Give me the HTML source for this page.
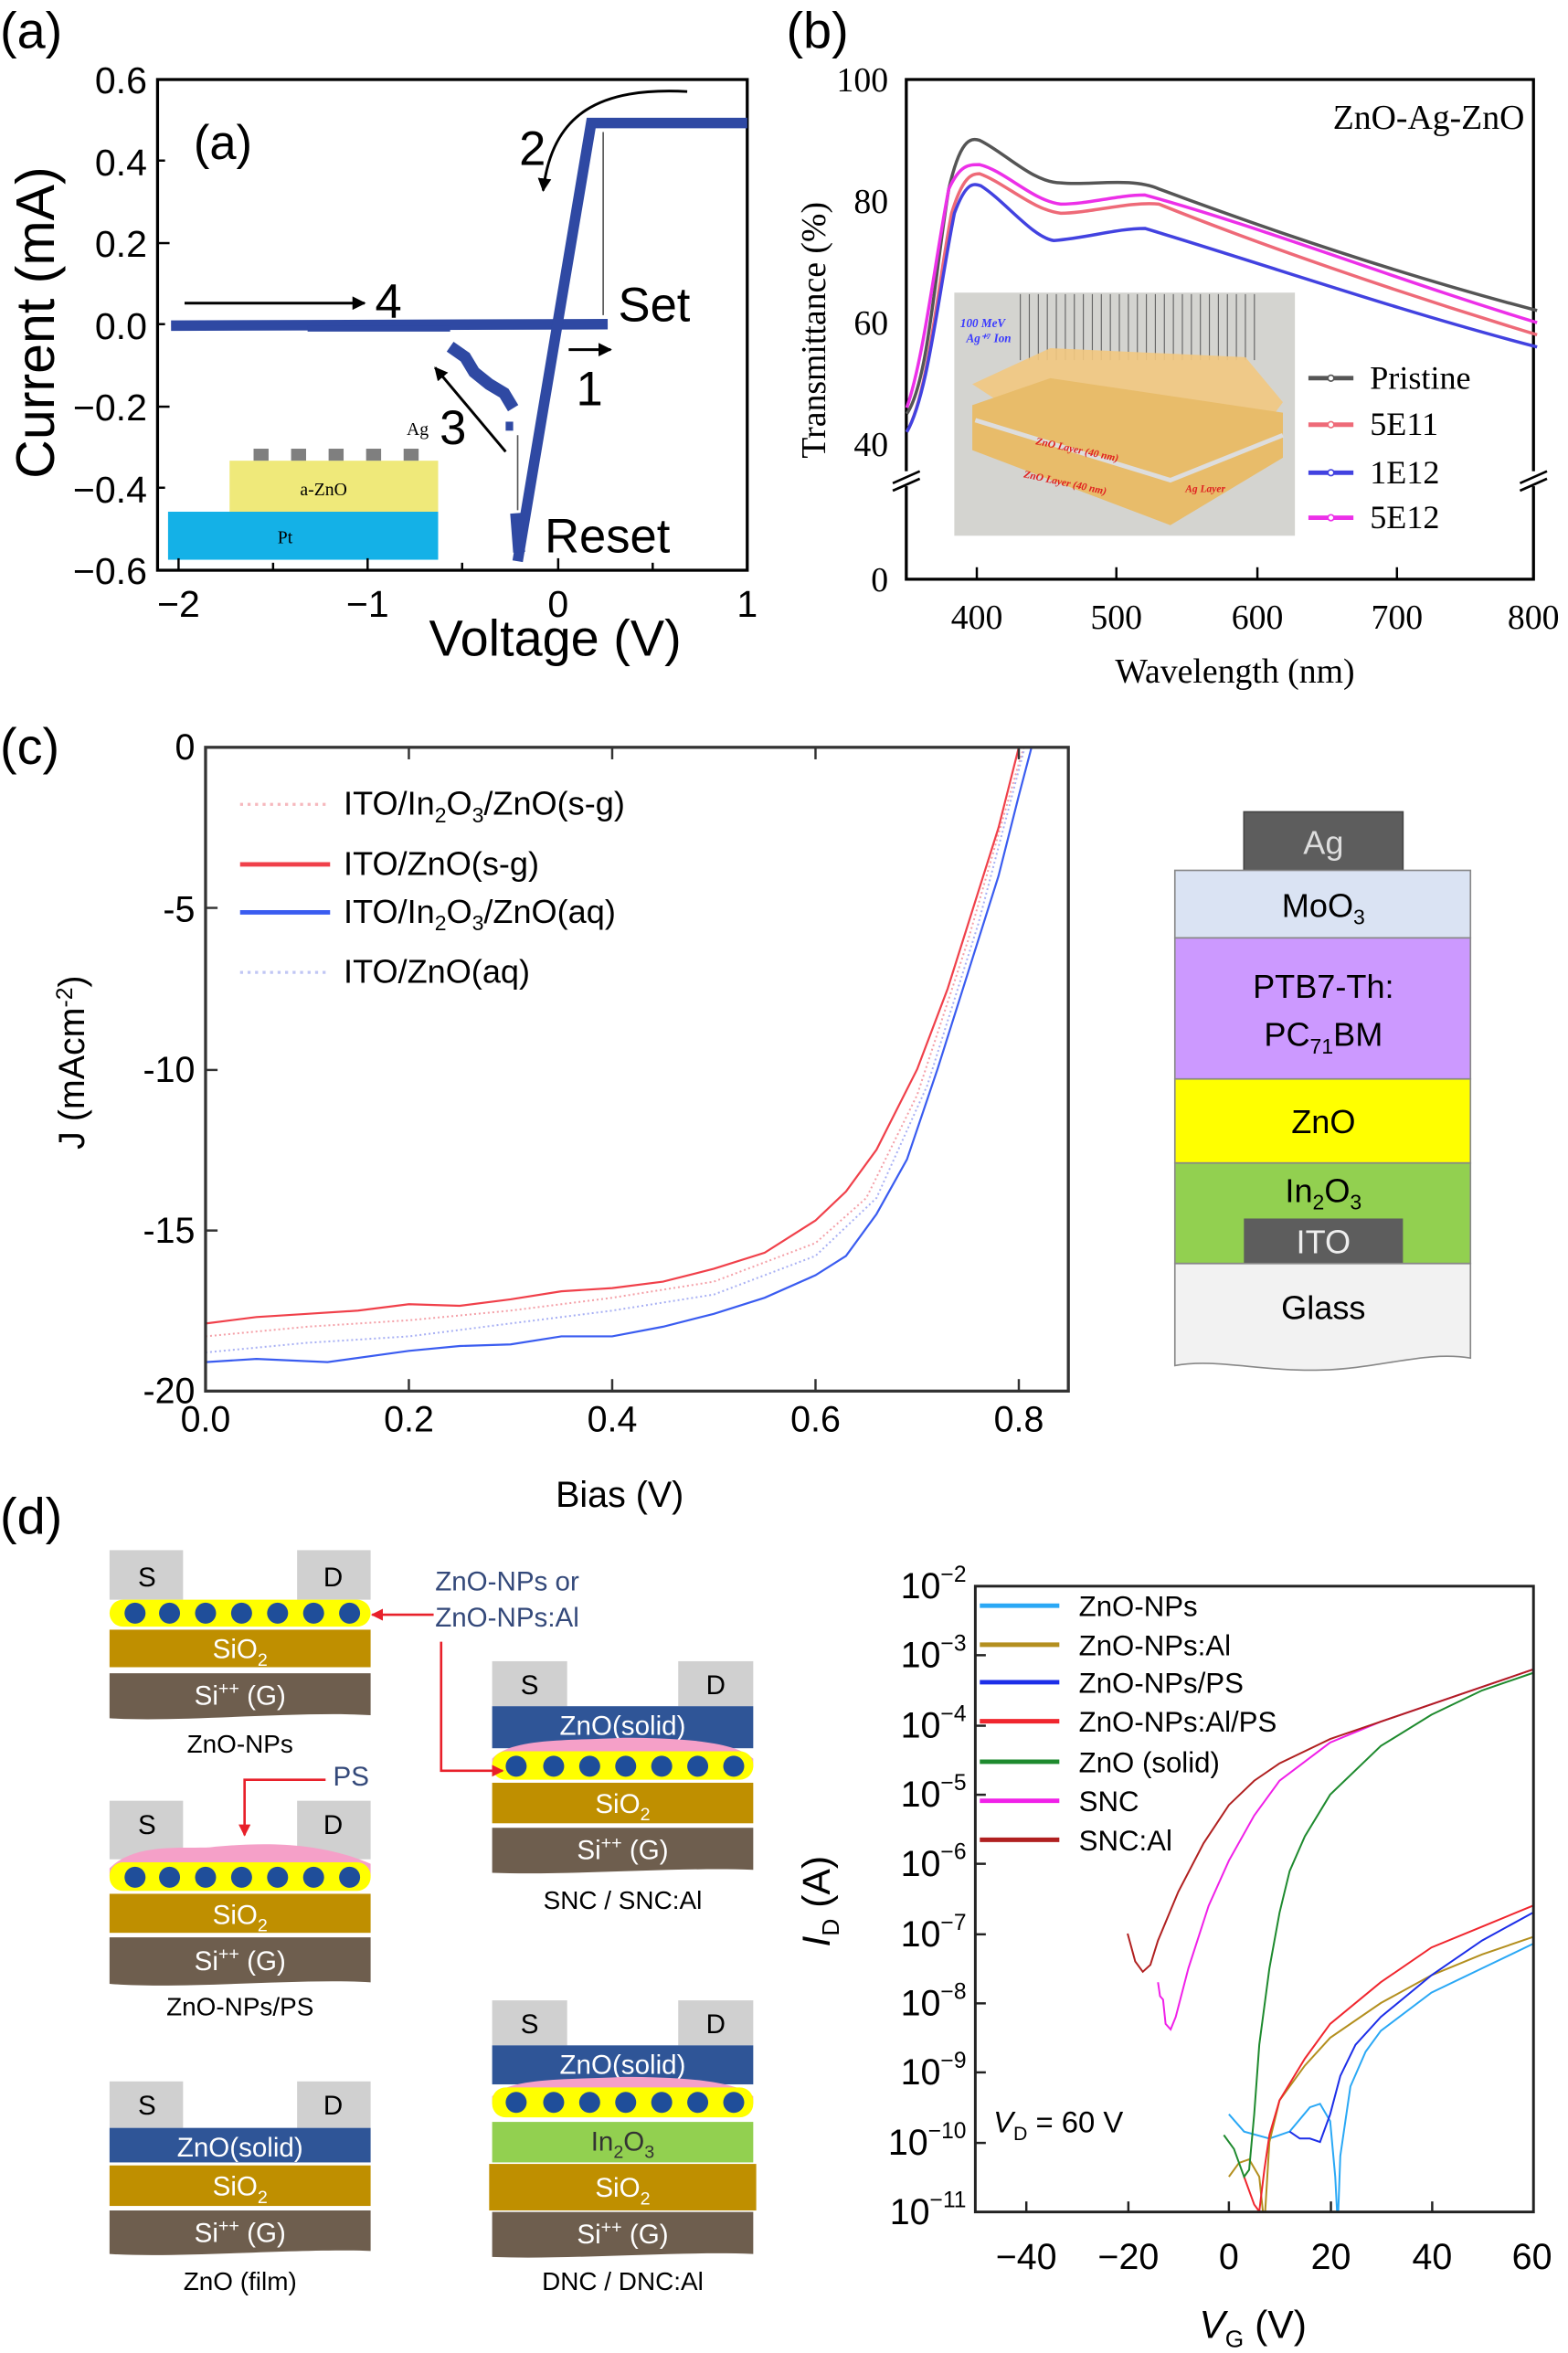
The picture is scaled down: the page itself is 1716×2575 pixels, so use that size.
<!DOCTYPE html>
<html><head><meta charset="utf-8"><style>
html,body{margin:0;padding:0;background:#fff}
svg{display:block}
.s{font-family:"Liberation Sans",sans-serif}
.r{font-family:"Liberation Serif",serif}
</style></head><body>
<svg width="1716" height="2575" viewBox="0 0 1045 1568" preserveAspectRatio="none" xmlns="http://www.w3.org/2000/svg">
<defs>
<marker id="ah" viewBox="0 0 10 10" refX="9" refY="5" markerWidth="5" markerHeight="5" orient="auto"><path d="M0,0L10,5L0,10z" fill="#000"/></marker>
<marker id="ar" viewBox="0 0 10 10" refX="9" refY="5" markerWidth="5" markerHeight="5" orient="auto"><path d="M0,0L10,5L0,10z" fill="#e8202a"/></marker>
<clipPath id="cc" clipPathUnits="userSpaceOnUse"><rect x="137" y="498" width="575" height="429"/></clipPath>
<clipPath id="cd" clipPathUnits="userSpaceOnUse"><rect x="650" y="1057" width="372" height="417"/></clipPath>
</defs>

<!-- ============ (a) ============ -->
<text x="0" y="32" class="s" font-size="34">(a)</text>
<rect x="112" y="341" width="180" height="32" fill="#14b1e7"/>
<rect x="153" y="307" width="139" height="34" fill="#efe97a"/>
<g fill="#7f7f7f"><rect x="169" y="299" width="10" height="8"/><rect x="194" y="299" width="10" height="8"/><rect x="219" y="299" width="10" height="8"/><rect x="244" y="299" width="10" height="8"/><rect x="269" y="299" width="10" height="8"/></g>
<text x="271" y="290" class="r" font-size="12">Ag</text>
<text x="200" y="330" class="r" font-size="12">a-ZnO</text>
<text x="185" y="362" class="r" font-size="12">Pt</text>
<rect x="105" y="53" width="393" height="327" fill="none" stroke="#000" stroke-width="2"/>
<g stroke="#000" stroke-width="1.5">
<line x1="119" y1="380" x2="119" y2="372"/><line x1="182" y1="380" x2="182" y2="375"/><line x1="245" y1="380" x2="245" y2="372"/><line x1="308" y1="380" x2="308" y2="375"/><line x1="372" y1="380" x2="372" y2="372"/><line x1="435" y1="380" x2="435" y2="375"/>
<line x1="105" y1="53" x2="113" y2="53"/><line x1="105" y1="107" x2="110" y2="107"/><line x1="105" y1="162" x2="113" y2="162"/><line x1="105" y1="216" x2="110" y2="216"/><line x1="105" y1="271" x2="113" y2="271"/><line x1="105" y1="325" x2="110" y2="325"/>
</g>
<g class="s" font-size="25" text-anchor="end">
<text x="98" y="62">0.6</text><text x="98" y="117">0.4</text><text x="98" y="171">0.2</text><text x="98" y="226">0.0</text><text x="98" y="280">−0.2</text><text x="98" y="335">−0.4</text><text x="98" y="389">−0.6</text>
</g>
<g class="s" font-size="25" text-anchor="middle">
<text x="119" y="411">−2</text><text x="245" y="411">−1</text><text x="372" y="411">0</text><text x="498" y="411">1</text>
</g>
<text x="370" y="437" class="s" font-size="34" text-anchor="middle">Voltage (V)</text>
<text transform="translate(36,215) rotate(-90)" class="s" font-size="36" text-anchor="middle">Current (mA)</text>
<g stroke="#2f49a3" fill="none" stroke-linecap="butt">
<path d="M114,217 L405,216" stroke-width="7"/>
<path d="M205,219 L300,219" stroke-width="4"/>
<path d="M345,374 L394,82 L498,82" stroke-width="7"/>
<path d="M300,231 L310,238 L316,248 L326,256 L336,262 L342,272" stroke-width="8"/>
<rect x="337" y="281" width="5" height="6" fill="#2f49a3" stroke="none"/>
<path d="M344,342 L346,368" stroke-width="8"/>
</g>
<line x1="402" y1="88" x2="402" y2="210" stroke="#555" stroke-width="1"/>
<line x1="345" y1="290" x2="345" y2="340" stroke="#555" stroke-width="1"/>
<g stroke="#000" stroke-width="1.8" fill="none">
<line x1="123" y1="202" x2="243" y2="202" marker-end="url(#ah)"/>
<line x1="379" y1="233" x2="407" y2="233" marker-end="url(#ah)"/>
<line x1="337" y1="301" x2="290" y2="245" marker-end="url(#ah)"/>
<path d="M458,61 C400,58 368,75 362,127" marker-end="url(#ah)"/>
</g>
<g class="s" font-size="32">
<text x="129" y="106">(a)</text>
<text x="250" y="212">4</text>
<text x="412" y="214">Set</text>
<text x="363" y="368">Reset</text>
<text x="384" y="270">1</text>
<text x="346" y="110">2</text>
<text x="293" y="296">3</text>
</g>

<!-- ============ (b) ============ -->
<text x="524" y="32" class="s" font-size="34">(b)</text>
<rect x="636" y="195" width="227" height="162" fill="#d4d4d0"/>
<g stroke="#666" stroke-width="0.7">
<path d="M680,196V240M686,196V240M692,196V240M698,196V240M704,196V240M710,196V240M716,196V240M722,196V240M728,196V240M734,196V240M740,196V240M746,196V240M752,196V240M758,196V240M764,196V240M770,196V240M776,196V240M782,196V240M788,196V240M794,196V240M800,196V240M806,196V240M812,196V240M818,196V240M824,196V240M830,196V240M836,196V240"/>
</g>
<path d="M648,256 L700,232 L830,238 L855,268 L835,295 L700,290z" fill="#f2c880" opacity="0.9"/>
<path d="M648,270 L700,252 L855,275 L855,305 L780,350 L648,300z" fill="#e8bc6a"/>
<path d="M650,280 L780,320 L855,290" stroke="#ddd" stroke-width="3" fill="none"/>
<text x="640" y="218" class="r" font-size="8" fill="#3a3aff" font-style="italic" font-weight="bold">100 MeV</text>
<text x="644" y="228" class="r" font-size="8" fill="#3a3aff" font-style="italic" font-weight="bold">Ag⁺⁷ Ion</text>
<text x="690" y="296" class="r" font-size="7" fill="#e02020" font-style="italic" font-weight="bold" transform="rotate(12 690 296)">ZnO Layer (40 nm)</text>
<text x="682" y="318" class="r" font-size="7" fill="#e02020" font-style="italic" font-weight="bold" transform="rotate(12 682 318)">ZnO Layer (40 nm)</text>
<text x="790" y="328" class="r" font-size="7" fill="#e02020" font-style="italic" font-weight="bold">Ag Layer</text>
<path d="M604,53 H1022 V386 H604 Z" fill="none" stroke="#000" stroke-width="2"/>
<rect x="596" y="314" width="16" height="10" fill="#fff"/><rect x="1014" y="314" width="16" height="10" fill="#fff"/>
<g stroke="#000" stroke-width="1.6"><line x1="595" y1="322" x2="613" y2="314"/><line x1="595" y1="327" x2="613" y2="319"/><line x1="1013" y1="322" x2="1031" y2="314"/><line x1="1013" y1="327" x2="1031" y2="319"/></g>
<g stroke="#000" stroke-width="1.5"><line x1="651" y1="386" x2="651" y2="378"/><line x1="744" y1="386" x2="744" y2="378"/><line x1="838" y1="386" x2="838" y2="378"/><line x1="931" y1="386" x2="931" y2="378"/></g>
<g class="r" font-size="23" text-anchor="end">
<text x="592" y="61">100</text><text x="592" y="142">80</text><text x="592" y="223">60</text><text x="592" y="304">40</text><text x="592" y="394">0</text>
</g>
<g class="r" font-size="23" text-anchor="middle">
<text x="651" y="419">400</text><text x="744" y="419">500</text><text x="838" y="419">600</text><text x="931" y="419">700</text><text x="1022" y="419">800</text>
</g>
<text x="823" y="455" class="r" font-size="23" text-anchor="middle">Wavelength (nm)</text>
<text transform="translate(550,220) rotate(-90)" class="r" font-size="23" text-anchor="middle">Transmittance (%)</text>
<text x="1016" y="86" class="r" font-size="23" text-anchor="end">ZnO-Ag-ZnO</text>
<g transform="translate(277.6,458) scale(0.9335,-4.05)" fill="none" stroke-width="3.5">
<path vector-effect="non-scaling-stroke" stroke="#555" d="M350,45 C365,50 370,68 380,82 C388,90 395,90.5 402,90 C420,88 440,83 460,83 C480,82.5 510,84 530,82 C600,76 700,68 800,62"/>
<path vector-effect="non-scaling-stroke" stroke="#ee6a78" d="M350,42 C365,48 372,66 382,78 C390,84 396,84.5 402,84.5 C420,83 440,78.5 460,78 C480,78 510,80 530,79.5 C600,73 700,65 800,58"/>
<path vector-effect="non-scaling-stroke" stroke="#ec30e8" d="M350,46 C362,54 370,70 380,82 C388,86 394,86 402,86 C420,85 440,80 460,79.5 C480,79.5 500,81 520,81 C600,76 700,67 800,60"/>
<path vector-effect="non-scaling-stroke" stroke="#4242e0" d="M350,42 C365,48 372,64 384,78 C392,83 397,83 403,82.5 C420,80 440,74 455,73.5 C480,74 500,75.5 520,75.5 C600,70 700,62 800,56"/>
</g>
<g stroke-width="3" fill="#fff">
<line x1="872" y1="252" x2="902" y2="252" stroke="#555"/><circle cx="887" cy="252" r="2" stroke="#555" stroke-width="1"/>
<line x1="872" y1="283" x2="902" y2="283" stroke="#ee6a78"/><circle cx="887" cy="283" r="2" stroke="#ee6a78" stroke-width="1"/>
<line x1="872" y1="315" x2="902" y2="315" stroke="#4242e0"/><circle cx="887" cy="315" r="2" stroke="#4242e0" stroke-width="1"/>
<line x1="872" y1="345" x2="902" y2="345" stroke="#ec30e8"/><circle cx="887" cy="345" r="2" stroke="#ec30e8" stroke-width="1"/>
</g>
<g class="r" font-size="22"><text x="913" y="259">Pristine</text><text x="913" y="290">5E11</text><text x="913" y="322">1E12</text><text x="913" y="352">5E12</text></g>

<!-- ============ (c) ============ -->
<text x="0" y="509" class="s" font-size="34">(c)</text>
<g clip-path="url(#cc)">
<g transform="translate(137,498) scale(677.5,-21.45)" fill="none">
<path vector-effect="non-scaling-stroke" stroke="#f4a0a8" stroke-width="2" stroke-dasharray="2,3" d="M0,-18.3 L0.1,-18 L0.2,-17.8 L0.3,-17.5 L0.4,-17.1 L0.5,-16.6 L0.6,-15.4 L0.65,-14 L0.7,-10.8 L0.75,-6 L0.8,-0.5 L0.81,0.5"/>
<path vector-effect="non-scaling-stroke" stroke="#a8b0f4" stroke-width="2" stroke-dasharray="2,3" d="M0,-18.8 L0.1,-18.5 L0.2,-18.3 L0.3,-17.9 L0.4,-17.5 L0.5,-17 L0.6,-15.8 L0.66,-14 L0.71,-10.5 L0.76,-5.5 L0.81,0.5"/>
<path vector-effect="non-scaling-stroke" stroke="#f0404a" stroke-width="2.2" d="M0,-17.9 L0.05,-17.7 L0.1,-17.6 L0.15,-17.5 L0.2,-17.3 L0.25,-17.35 L0.3,-17.15 L0.35,-16.9 L0.4,-16.8 L0.45,-16.6 L0.5,-16.2 L0.55,-15.7 L0.6,-14.7 L0.63,-13.8 L0.66,-12.5 L0.7,-10 L0.73,-7.5 L0.76,-4.5 L0.78,-2.5 L0.8,0"/>
<path vector-effect="non-scaling-stroke" stroke="#3a5cf0" stroke-width="2.2" d="M0,-19.1 L0.05,-19 L0.12,-19.1 L0.2,-18.75 L0.25,-18.6 L0.3,-18.55 L0.35,-18.3 L0.4,-18.3 L0.45,-18 L0.5,-17.6 L0.55,-17.1 L0.6,-16.4 L0.63,-15.8 L0.66,-14.5 L0.69,-12.8 L0.72,-10 L0.75,-7 L0.78,-4 L0.8,-1.5 L0.815,0.3"/>
</g>
</g>
<rect x="137" y="498" width="575" height="429" fill="none" stroke="#333" stroke-width="2"/>
<g stroke="#333" stroke-width="1.5">
<line x1="272.5" y1="927" x2="272.5" y2="919"/><line x1="408" y1="927" x2="408" y2="919"/><line x1="543.5" y1="927" x2="543.5" y2="919"/><line x1="679" y1="927" x2="679" y2="919"/>
<line x1="272.5" y1="498" x2="272.5" y2="506"/><line x1="408" y1="498" x2="408" y2="506"/><line x1="543.5" y1="498" x2="543.5" y2="506"/><line x1="679" y1="498" x2="679" y2="506"/>
<line x1="137" y1="605" x2="145" y2="605"/><line x1="137" y1="713" x2="145" y2="713"/><line x1="137" y1="820" x2="145" y2="820"/>
</g>
<g class="s" font-size="24" text-anchor="end">
<text x="130" y="506">0</text><text x="130" y="614">-5</text><text x="130" y="721">-10</text><text x="130" y="828">-15</text><text x="130" y="935">-20</text>
</g>
<g class="s" font-size="24" text-anchor="middle">
<text x="137" y="954">0.0</text><text x="272.5" y="954">0.2</text><text x="408" y="954">0.4</text><text x="543.5" y="954">0.6</text><text x="679" y="954">0.8</text>
</g>
<text x="413" y="1004" class="s" font-size="24" text-anchor="middle">Bias (V)</text>
<text transform="translate(56,708) rotate(-90)" class="s" font-size="24" text-anchor="middle">J (mAcm<tspan dy="-8" font-size="15">-2</tspan><tspan dy="8">)</tspan></text>
<g stroke-width="3">
<line x1="160" y1="536" x2="220" y2="536" stroke="#f6b8bd" stroke-dasharray="2,3" stroke-width="2"/>
<line x1="160" y1="576" x2="220" y2="576" stroke="#f0404a"/>
<line x1="160" y1="608" x2="220" y2="608" stroke="#3a5cf0"/>
<line x1="160" y1="648" x2="220" y2="648" stroke="#c0c6f4" stroke-dasharray="2,3" stroke-width="2"/>
</g>
<g class="s" font-size="22">
<text x="229" y="543">ITO/In<tspan font-size="14" dy="5">2</tspan><tspan dy="-5">O</tspan><tspan font-size="14" dy="5">3</tspan><tspan dy="-5">/ZnO(s-g)</tspan></text>
<text x="229" y="583">ITO/ZnO(s-g)</text>
<text x="229" y="615">ITO/In<tspan font-size="14" dy="5">2</tspan><tspan dy="-5">O</tspan><tspan font-size="14" dy="5">3</tspan><tspan dy="-5">/ZnO(aq)</tspan></text>
<text x="229" y="655">ITO/ZnO(aq)</text>
</g>
<rect x="829" y="541" width="106" height="39" fill="#5d5d5d" stroke="#444"/>
<rect x="783" y="580" width="197" height="45" fill="#dae3f3" stroke="#888"/>
<rect x="783" y="625" width="197" height="94" fill="#cc99ff" stroke="#888"/>
<rect x="783" y="719" width="197" height="56" fill="#ffff00" stroke="#888"/>
<rect x="783" y="775" width="197" height="67" fill="#92d050" stroke="#888"/>
<rect x="829" y="812" width="106" height="30" fill="#5d5d5d"/>
<path d="M783,842 H980 V905 C950,900 920,912 880,913 C840,914 810,905 783,910 Z" fill="#f2f2f2" stroke="#888"/>
<g class="s" font-size="22" text-anchor="middle">
<text x="882" y="569" fill="#ddd">Ag</text>
<text x="882" y="611">MoO<tspan font-size="14" dy="5">3</tspan></text>
<text x="882" y="665">PTB7-Th:</text>
<text x="882" y="697">PC<tspan font-size="14" dy="5">71</tspan><tspan dy="-5">BM</tspan></text>
<text x="882" y="755">ZnO</text>
<text x="882" y="801">In<tspan font-size="14" dy="5">2</tspan><tspan dy="-5">O</tspan><tspan font-size="14" dy="5">3</tspan></text>
<text x="882" y="835" fill="#eee">ITO</text>
<text x="882" y="879">Glass</text>
</g>

<!-- ============ (d) ============ -->
<text x="0" y="1022" class="s" font-size="34">(d)</text>
<g class="s" font-size="18" text-anchor="middle">
<rect x="73" y="1033" width="49" height="33" fill="#d0d0d0"/><rect x="198" y="1033" width="49" height="33" fill="#d0d0d0"/>
<text x="98" y="1057">S</text><text x="222" y="1057">D</text>
<rect x="73" y="1066" width="174" height="18" rx="9" fill="#ffff00"/>
<g fill="#1f4e9a"><circle cx="90" cy="1075" r="7"/><circle cx="113" cy="1075" r="7"/><circle cx="137" cy="1075" r="7"/><circle cx="161" cy="1075" r="7"/><circle cx="185" cy="1075" r="7"/><circle cx="209" cy="1075" r="7"/><circle cx="233" cy="1075" r="7"/></g>
<rect x="73" y="1086" width="174" height="25" fill="#bf8f00"/>
<path d="M73,1115 H247 V1143 C200,1140 120,1148 73,1145 Z" fill="#6e5e4e"/>
<text x="160" y="1105" fill="#fff">SiO<tspan font-size="12" dy="5">2</tspan></text>
<text x="160" y="1136" fill="#fff">Si<tspan font-size="12" dy="-7">++</tspan><tspan dy="7"> (G)</tspan></text>
<text x="160" y="1168" font-size="17">ZnO-NPs</text>
<rect x="73" y="1200" width="49" height="39" fill="#d0d0d0"/><rect x="198" y="1200" width="49" height="39" fill="#d0d0d0"/>
<text x="98" y="1222">S</text><text x="222" y="1222">D</text>
<path d="M73,1245 C90,1228 120,1232 140,1231 C170,1228 210,1226 247,1242 V1250 H73Z" fill="#f5a0c8"/>
<rect x="73" y="1241" width="174" height="19" rx="9" fill="#ffff00"/>
<g fill="#1f4e9a"><circle cx="90" cy="1251" r="7"/><circle cx="113" cy="1251" r="7"/><circle cx="137" cy="1251" r="7"/><circle cx="161" cy="1251" r="7"/><circle cx="185" cy="1251" r="7"/><circle cx="209" cy="1251" r="7"/><circle cx="233" cy="1251" r="7"/></g>
<rect x="73" y="1262" width="174" height="26" fill="#bf8f00"/>
<path d="M73,1291 H247 V1321 C200,1318 120,1326 73,1322 Z" fill="#6e5e4e"/>
<text x="160" y="1282" fill="#fff">SiO<tspan font-size="12" dy="5">2</tspan></text>
<text x="160" y="1313" fill="#fff">Si<tspan font-size="12" dy="-7">++</tspan><tspan dy="7"> (G)</tspan></text>
<text x="160" y="1343" font-size="17">ZnO-NPs/PS</text>
<rect x="73" y="1387" width="49" height="31" fill="#d0d0d0"/><rect x="198" y="1387" width="49" height="31" fill="#d0d0d0"/>
<text x="98" y="1409">S</text><text x="222" y="1409">D</text>
<rect x="73" y="1418" width="174" height="23" fill="#2f5597"/>
<text x="160" y="1437" fill="#fff">ZnO(solid)</text>
<rect x="73" y="1443" width="174" height="27" fill="#bf8f00"/>
<path d="M73,1473 H247 V1500 C200,1498 120,1505 73,1502 Z" fill="#6e5e4e"/>
<text x="160" y="1463" fill="#fff">SiO<tspan font-size="12" dy="5">2</tspan></text>
<text x="160" y="1494" fill="#fff">Si<tspan font-size="12" dy="-7">++</tspan><tspan dy="7"> (G)</tspan></text>
<text x="160" y="1526" font-size="17">ZnO (film)</text>
<rect x="328" y="1107" width="50" height="30" fill="#d0d0d0"/><rect x="452" y="1107" width="50" height="30" fill="#d0d0d0"/>
<text x="353" y="1129">S</text><text x="477" y="1129">D</text>
<rect x="328" y="1137" width="174" height="28" fill="#2f5597"/>
<text x="415" y="1156" fill="#fff">ZnO(solid)</text>
<path d="M328,1172 C340,1158 380,1160 415,1158 C450,1158 490,1160 502,1172 V1178 H328Z" fill="#f5a0c8"/>
<rect x="328" y="1167" width="174" height="19" rx="9" fill="#ffff00"/>
<g fill="#1f4e9a"><circle cx="344" cy="1177" r="7"/><circle cx="369" cy="1177" r="7"/><circle cx="393" cy="1177" r="7"/><circle cx="417" cy="1177" r="7"/><circle cx="441" cy="1177" r="7"/><circle cx="465" cy="1177" r="7"/><circle cx="489" cy="1177" r="7"/></g>
<rect x="328" y="1188" width="174" height="27" fill="#bf8f00"/>
<path d="M328,1218 H502 V1246 C450,1244 380,1250 328,1248 Z" fill="#6e5e4e"/>
<text x="415" y="1208" fill="#fff">SiO<tspan font-size="12" dy="5">2</tspan></text>
<text x="415" y="1239" fill="#fff">Si<tspan font-size="12" dy="-7">++</tspan><tspan dy="7"> (G)</tspan></text>
<text x="415" y="1272" font-size="17">SNC / SNC:Al</text>
<rect x="328" y="1333" width="50" height="30" fill="#d0d0d0"/><rect x="452" y="1333" width="50" height="30" fill="#d0d0d0"/>
<text x="353" y="1355">S</text><text x="477" y="1355">D</text>
<rect x="328" y="1363" width="174" height="26" fill="#2f5597"/>
<text x="415" y="1382" fill="#fff">ZnO(solid)</text>
<path d="M328,1397 C340,1384 380,1386 415,1384 C450,1384 490,1386 502,1397 V1402 H328Z" fill="#f5a0c8"/>
<rect x="328" y="1391" width="174" height="20" rx="9" fill="#ffff00"/>
<g fill="#1f4e9a"><circle cx="344" cy="1401" r="7"/><circle cx="369" cy="1401" r="7"/><circle cx="393" cy="1401" r="7"/><circle cx="417" cy="1401" r="7"/><circle cx="441" cy="1401" r="7"/><circle cx="465" cy="1401" r="7"/><circle cx="489" cy="1401" r="7"/></g>
<rect x="328" y="1414" width="174" height="27" fill="#92d050"/>
<text x="415" y="1433" fill="#333">In<tspan font-size="12" dy="5">2</tspan><tspan dy="-5">O</tspan><tspan font-size="12" dy="5">3</tspan></text>
<rect x="326" y="1442" width="178" height="31" fill="#bf8f00"/>
<path d="M328,1474 H502 V1502 C450,1500 380,1506 328,1504 Z" fill="#6e5e4e"/>
<text x="415" y="1464" fill="#fff">SiO<tspan font-size="12" dy="5">2</tspan></text>
<text x="415" y="1495" fill="#fff">Si<tspan font-size="12" dy="-7">++</tspan><tspan dy="7"> (G)</tspan></text>
<text x="415" y="1526" font-size="17">DNC / DNC:Al</text>
</g>
<g class="s" font-size="18" fill="#34497a">
<text x="290" y="1060">ZnO-NPs or</text>
<text x="290" y="1084">ZnO-NPs:Al</text>
<text x="222" y="1190">PS</text>
</g>
<g stroke="#e8202a" stroke-width="1.6" fill="none">
<line x1="289" y1="1076" x2="248" y2="1076" marker-end="url(#ar)"/>
<path d="M294,1094 V1180 H335" marker-end="url(#ar)"/>
<path d="M217,1186 H163 V1223" marker-end="url(#ar)"/>
</g>
<g clip-path="url(#cd)">
<g transform="translate(819,964.4) scale(3.375,-46.3)" fill="none" stroke-width="2">
<path vector-effect="non-scaling-stroke" stroke="#2aa8f5" d="M0,-9.6 L3,-9.85 L8,-9.95 L12,-9.85 L16,-9.5 L18,-9.45 L20,-9.7 L21,-10.5 L21.5,-11.2 L22,-10.2 L24,-9.2 L27,-8.7 L30,-8.4 L40,-7.85 L50,-7.5 L60,-7.15"/>
<path vector-effect="non-scaling-stroke" stroke="#b38f1f" d="M0,-10.5 L2,-10.3 L4,-10.25 L6,-10.5 L7,-11.2 L8,-10 L10,-9.4 L15,-8.9 L20,-8.5 L30,-8.0 L40,-7.6 L50,-7.3 L60,-7.05"/>
<path vector-effect="non-scaling-stroke" stroke="#1c2ee8" d="M12,-9.85 L14,-9.95 L16,-9.95 L18,-10 L20,-9.6 L22,-9.05 L25,-8.6 L30,-8.2 L40,-7.6 L50,-7.1 L60,-6.7"/>
<path vector-effect="non-scaling-stroke" stroke="#f0262e" d="M3,-10.5 L5,-10.9 L6,-11 L7,-10.4 L8,-9.9 L10,-9.4 L15,-8.8 L20,-8.3 L30,-7.7 L40,-7.2 L50,-6.9 L60,-6.6"/>
<path vector-effect="non-scaling-stroke" stroke="#1e8a2e" d="M-1,-9.9 L1,-10.1 L2,-10.3 L3,-10.5 L4,-10.4 L5,-9.6 L6,-8.6 L8,-7.5 L10,-6.7 L12,-6.1 L15,-5.6 L20,-5.0 L30,-4.3 L40,-3.85 L50,-3.5 L60,-3.25"/>
<path vector-effect="non-scaling-stroke" stroke="#f020e8" d="M-14,-7.7 L-13.6,-7.9 L-13,-7.95 L-12.5,-8.3 L-11.5,-8.38 L-10.5,-8.2 L-8,-7.5 L-4,-6.6 L0,-5.95 L5,-5.3 L10,-4.8 L20,-4.25 L30,-3.95 L40,-3.7 L50,-3.45 L60,-3.2"/>
<path vector-effect="non-scaling-stroke" stroke="#b02020" d="M-20,-7.0 L-18.5,-7.4 L-17,-7.55 L-15.5,-7.45 L-14,-7.1 L-10,-6.4 L-5,-5.7 L0,-5.15 L5,-4.8 L10,-4.55 L20,-4.2 L30,-3.95 L40,-3.7 L50,-3.45 L60,-3.2"/>
</g>
</g>
<rect x="650" y="1057" width="372" height="417" fill="none" stroke="#222" stroke-width="1.8"/>
<g stroke="#222" stroke-width="1.5">
<line x1="684" y1="1474" x2="684" y2="1467"/><line x1="752" y1="1474" x2="752" y2="1467"/><line x1="819" y1="1474" x2="819" y2="1467"/><line x1="887" y1="1474" x2="887" y2="1467"/><line x1="954.5" y1="1474" x2="954.5" y2="1467"/>
<line x1="650" y1="1103" x2="657" y2="1103"/><line x1="650" y1="1150" x2="657" y2="1150"/><line x1="650" y1="1196" x2="657" y2="1196"/><line x1="650" y1="1242" x2="657" y2="1242"/><line x1="650" y1="1289" x2="657" y2="1289"/><line x1="650" y1="1335" x2="657" y2="1335"/><line x1="650" y1="1381" x2="657" y2="1381"/><line x1="650" y1="1428" x2="657" y2="1428"/>
</g>
<g class="s" font-size="24" text-anchor="end">
<text x="644" y="1065">10<tspan font-size="15" dy="-11">−2</tspan></text>
<text x="644" y="1111">10<tspan font-size="15" dy="-11">−3</tspan></text>
<text x="644" y="1158">10<tspan font-size="15" dy="-11">−4</tspan></text>
<text x="644" y="1204">10<tspan font-size="15" dy="-11">−5</tspan></text>
<text x="644" y="1250">10<tspan font-size="15" dy="-11">−6</tspan></text>
<text x="644" y="1297">10<tspan font-size="15" dy="-11">−7</tspan></text>
<text x="644" y="1343">10<tspan font-size="15" dy="-11">−8</tspan></text>
<text x="644" y="1389">10<tspan font-size="15" dy="-11">−9</tspan></text>
<text x="644" y="1436">10<tspan font-size="15" dy="-11">−10</tspan></text>
<text x="644" y="1482">10<tspan font-size="15" dy="-11">−11</tspan></text>
</g>
<g class="s" font-size="24" text-anchor="middle">
<text x="684" y="1512">−40</text><text x="752" y="1512">−20</text><text x="819" y="1512">0</text><text x="887" y="1512">20</text><text x="954.5" y="1512">40</text><text x="1021" y="1512">60</text>
</g>
<text x="835" y="1558" class="s" font-size="26" text-anchor="middle"><tspan font-style="italic">V</tspan><tspan font-size="16" dy="6">G</tspan><tspan dy="-6"> (V)</tspan></text>
<text transform="translate(553,1267) rotate(-90)" class="s" font-size="26" text-anchor="middle"><tspan font-style="italic">I</tspan><tspan font-size="16" dy="6">D</tspan><tspan dy="-6"> (A)</tspan></text>
<text x="662" y="1421" class="s" font-size="20"><tspan font-style="italic">V</tspan><tspan font-size="13" dy="5">D</tspan><tspan dy="-5"> = 60 V</tspan></text>
<g stroke-width="3">
<line x1="653" y1="1070" x2="706" y2="1070" stroke="#2aa8f5"/>
<line x1="653" y1="1096" x2="706" y2="1096" stroke="#b38f1f"/>
<line x1="653" y1="1121" x2="706" y2="1121" stroke="#1c2ee8"/>
<line x1="653" y1="1147" x2="706" y2="1147" stroke="#f0262e"/>
<line x1="653" y1="1174" x2="706" y2="1174" stroke="#1e8a2e"/>
<line x1="653" y1="1200" x2="706" y2="1200" stroke="#f020e8"/>
<line x1="653" y1="1226" x2="706" y2="1226" stroke="#b02020"/>
</g>
<g class="s" font-size="19">
<text x="719" y="1077">ZnO-NPs</text><text x="719" y="1103">ZnO-NPs:Al</text><text x="719" y="1128">ZnO-NPs/PS</text><text x="719" y="1154">ZnO-NPs:Al/PS</text><text x="719" y="1181">ZnO (solid)</text><text x="719" y="1207">SNC</text><text x="719" y="1233">SNC:Al</text>
</g>
</svg>
</body></html>
